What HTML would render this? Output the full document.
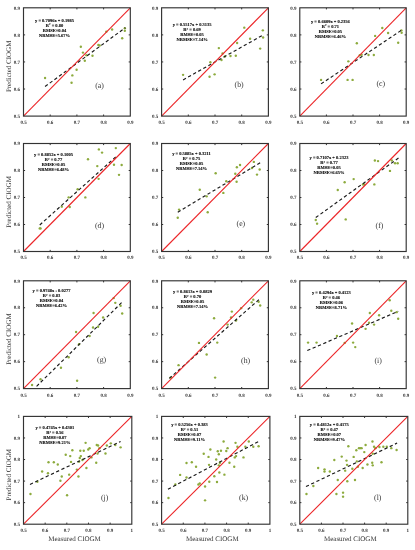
<!DOCTYPE html>
<html><head><meta charset="utf-8"><title>CIOGM scatter plots</title>
<style>
html,body{margin:0;padding:0;background:#fff;width:415px;height:550px;overflow:hidden}
svg{display:block}
svg text{font-family:"Liberation Serif","Times New Roman",serif;fill:#222;text-rendering:geometricPrecision}
circle{fill:#8dab3e}
.dl{stroke:#1a1a1a;stroke-width:1.15;stroke-dasharray:3.3 2.5}
.fr{fill:none;stroke:#333;stroke-width:1.15}
.tx{font-size:5.0px;font-weight:bold;text-anchor:middle;fill:#333}
.ty{font-size:5.0px;font-weight:bold;text-anchor:end;fill:#333}
.eq{font-size:4.5px;font-weight:bold;text-anchor:middle;fill:#000;stroke:#000;stroke-width:0.08}
.sup{font-size:3px}
.lab{font-size:7.8px;text-anchor:middle;fill:#333}
.ax{font-size:7.0px;text-anchor:middle;fill:#333}
</style></head><body>
<svg width="415" height="550" viewBox="0 0 415 550"><g><path d="M50.2 116.1v-1.6M50.2 7.8v1.6M23.5 89.02h1.6M130.3 89.02h-1.6M76.9 116.1v-1.6M76.9 7.8v1.6M23.5 61.95h1.6M130.3 61.95h-1.6M103.6 116.1v-1.6M103.6 7.8v1.6M23.5 34.88h1.6M130.3 34.88h-1.6" stroke="#333" stroke-width="1" fill="none"/><circle cx="45.06" cy="78.04" r="1.2"/><circle cx="72.36" cy="75.39" r="1.2"/><circle cx="71.57" cy="82.81" r="1.2"/><circle cx="76.6" cy="69.82" r="1.2"/><circle cx="80.84" cy="46.76" r="1.2"/><circle cx="82.96" cy="52.59" r="1.2"/><circle cx="86.41" cy="55.24" r="1.2"/><circle cx="84.82" cy="60.81" r="1.2"/><circle cx="92.51" cy="55.77" r="1.2"/><circle cx="98.34" cy="44.9" r="1.2"/><circle cx="99.66" cy="45.43" r="1.2"/><circle cx="106.29" cy="31.65" r="1.2"/><circle cx="112.12" cy="29.53" r="1.2"/><circle cx="122.19" cy="38.28" r="1.2"/><circle cx="124.84" cy="28.2" r="1.2"/><circle cx="124.84" cy="30.86" r="1.2"/><line x1="45.06" y1="86.52" x2="125.37" y2="27.67" class="dl"/><line x1="23.5" y1="116.1" x2="130.3" y2="7.8" stroke="#ec2528" stroke-width="1.1"/><rect x="23.5" y="7.8" width="106.8" height="108.3" class="fr"/><text x="23.5" y="124" class="tx">0.5</text><text x="20.1" y="117.8" class="ty">0.5</text><text x="50.2" y="124" class="tx">0.6</text><text x="20.1" y="90.72" class="ty">0.6</text><text x="76.9" y="124" class="tx">0.7</text><text x="20.1" y="63.65" class="ty">0.7</text><text x="103.6" y="124" class="tx">0.8</text><text x="20.1" y="36.58" class="ty">0.8</text><text x="130.3" y="124" class="tx">0.9</text><text x="20.1" y="9.5" class="ty">0.9</text><text x="54.5" y="21.75" class="eq">y = 0.7096x + 0.1985</text><text x="54.5" y="26.75" class="eq">R<tspan class="sup" dy="-1.3">2</tspan><tspan dy="1.3"> = 0.80</tspan></text><text x="54.5" y="31.75" class="eq">RMSE=0.04</text><text x="54.5" y="36.75" class="eq">NRMSE=5.67%</text><text x="99.5" y="88.4" class="lab">(a)</text></g><g><path d="M188.3 116.1v-1.6M188.3 7.8v1.6M161.6 89.02h1.6M268.4 89.02h-1.6M215 116.1v-1.6M215 7.8v1.6M161.6 61.95h1.6M268.4 61.95h-1.6M241.7 116.1v-1.6M241.7 7.8v1.6M161.6 34.88h1.6M268.4 34.88h-1.6" stroke="#333" stroke-width="1" fill="none"/><circle cx="183.06" cy="74.86" r="1.2"/><circle cx="209.57" cy="76.71" r="1.2"/><circle cx="214.6" cy="74.33" r="1.2"/><circle cx="210.36" cy="62.13" r="1.2"/><circle cx="218.84" cy="48.08" r="1.2"/><circle cx="222.55" cy="53.39" r="1.2"/><circle cx="221.49" cy="60.01" r="1.2"/><circle cx="224.94" cy="56.57" r="1.2"/><circle cx="230.51" cy="56.04" r="1.2"/><circle cx="235.81" cy="55.77" r="1.2"/><circle cx="237.13" cy="43.05" r="1.2"/><circle cx="244.29" cy="27.67" r="1.2"/><circle cx="250.12" cy="38.81" r="1.2"/><circle cx="260.19" cy="48.61" r="1.2"/><circle cx="262.84" cy="30.33" r="1.2"/><circle cx="263.11" cy="37.48" r="1.2"/><line x1="183.06" y1="79.89" x2="263.37" y2="34.83" class="dl"/><line x1="161.6" y1="116.1" x2="268.4" y2="7.8" stroke="#ec2528" stroke-width="1.1"/><rect x="161.6" y="7.8" width="106.8" height="108.3" class="fr"/><text x="161.6" y="124" class="tx">0.5</text><text x="158.2" y="117.8" class="ty">0.5</text><text x="188.3" y="124" class="tx">0.6</text><text x="158.2" y="90.72" class="ty">0.6</text><text x="215" y="124" class="tx">0.7</text><text x="158.2" y="63.65" class="ty">0.7</text><text x="241.7" y="124" class="tx">0.8</text><text x="158.2" y="36.58" class="ty">0.8</text><text x="268.4" y="124" class="tx">0.9</text><text x="158.2" y="9.5" class="ty">0.9</text><text x="192.1" y="26.45" class="eq">y = 0.5517x + 0.3135</text><text x="192.1" y="31.45" class="eq">R<tspan class="sup" dy="-1.3">2</tspan><tspan dy="1.3"> = 0.69</tspan></text><text x="192.1" y="36.45" class="eq">RMSE=0.05</text><text x="192.1" y="41.45" class="eq">NRMSE=7.14%</text><text x="239.1" y="87.3" class="lab">(b)</text></g><g><path d="M326.4 116.1v-1.6M326.4 7.8v1.6M299.8 89.02h1.6M406.2 89.02h-1.6M353 116.1v-1.6M353 7.8v1.6M299.8 61.95h1.6M406.2 61.95h-1.6M379.6 116.1v-1.6M379.6 7.8v1.6M299.8 34.88h1.6M406.2 34.88h-1.6" stroke="#333" stroke-width="1" fill="none"/><circle cx="321.06" cy="79.89" r="1.2"/><circle cx="347.57" cy="79.89" r="1.2"/><circle cx="352.6" cy="79.89" r="1.2"/><circle cx="348.36" cy="61.34" r="1.2"/><circle cx="356.84" cy="43.31" r="1.2"/><circle cx="359.76" cy="55.24" r="1.2"/><circle cx="361.61" cy="54.71" r="1.2"/><circle cx="368.51" cy="54.98" r="1.2"/><circle cx="373.81" cy="54.98" r="1.2"/><circle cx="375.13" cy="35.89" r="1.2"/><circle cx="382.29" cy="27.94" r="1.2"/><circle cx="388.12" cy="32.98" r="1.2"/><circle cx="398.19" cy="42.78" r="1.2"/><circle cx="401.37" cy="30.33" r="1.2"/><circle cx="401.64" cy="32.71" r="1.2"/><line x1="321.06" y1="83.87" x2="401.37" y2="30.33" class="dl"/><line x1="299.8" y1="116.1" x2="406.2" y2="7.8" stroke="#ec2528" stroke-width="1.1"/><rect x="299.8" y="7.8" width="106.4" height="108.3" class="fr"/><text x="299.8" y="124" class="tx">0.5</text><text x="296.4" y="117.8" class="ty">0.5</text><text x="326.4" y="124" class="tx">0.6</text><text x="296.4" y="90.72" class="ty">0.6</text><text x="353" y="124" class="tx">0.7</text><text x="296.4" y="63.65" class="ty">0.7</text><text x="379.6" y="124" class="tx">0.8</text><text x="296.4" y="36.58" class="ty">0.8</text><text x="406.2" y="124" class="tx">0.9</text><text x="296.4" y="9.5" class="ty">0.9</text><text x="330.4" y="22.55" class="eq">y = 0.6609x + 0.2356</text><text x="330.4" y="27.55" class="eq">R<tspan class="sup" dy="-1.3">2</tspan><tspan dy="1.3"> = 0.71</tspan></text><text x="330.4" y="32.55" class="eq">RMSE=0.05</text><text x="330.4" y="37.55" class="eq">NRMSE=6.46%</text><text x="380.8" y="86.1" class="lab">(c)</text></g><g><path d="M50.2 251.5v-1.6M50.2 143.5v1.6M23.5 224.5h1.6M130.3 224.5h-1.6M76.9 251.5v-1.6M76.9 143.5v1.6M23.5 197.5h1.6M130.3 197.5h-1.6M103.6 251.5v-1.6M103.6 143.5v1.6M23.5 170.5h1.6M130.3 170.5h-1.6" stroke="#333" stroke-width="1" fill="none"/><circle cx="39.76" cy="228.41" r="1.2"/><circle cx="40.55" cy="228.41" r="1.2"/><circle cx="61.76" cy="206.67" r="1.2"/><circle cx="68.65" cy="197.4" r="1.2"/><circle cx="69.71" cy="206.94" r="1.2"/><circle cx="77.66" cy="189.18" r="1.2"/><circle cx="85.35" cy="197.4" r="1.2"/><circle cx="88" cy="159.23" r="1.2"/><circle cx="97.28" cy="166.12" r="1.2"/><circle cx="98.6" cy="178.84" r="1.2"/><circle cx="98.87" cy="149.42" r="1.2"/><circle cx="102.05" cy="152.6" r="1.2"/><circle cx="113.98" cy="164.8" r="1.2"/><circle cx="115.83" cy="148.1" r="1.2"/><circle cx="119.01" cy="174.87" r="1.2"/><circle cx="121.66" cy="165.06" r="1.2"/><line x1="39.76" y1="224.96" x2="116.1" y2="156.58" class="dl"/><line x1="23.5" y1="251.5" x2="130.3" y2="143.5" stroke="#ec2528" stroke-width="1.1"/><rect x="23.5" y="143.5" width="106.8" height="108" class="fr"/><text x="23.5" y="259.4" class="tx">0.5</text><text x="20.1" y="253.2" class="ty">0.5</text><text x="50.2" y="259.4" class="tx">0.6</text><text x="20.1" y="226.2" class="ty">0.6</text><text x="76.9" y="259.4" class="tx">0.7</text><text x="20.1" y="199.2" class="ty">0.7</text><text x="103.6" y="259.4" class="tx">0.8</text><text x="20.1" y="172.2" class="ty">0.8</text><text x="130.3" y="259.4" class="tx">0.9</text><text x="20.1" y="145.2" class="ty">0.9</text><text x="53.5" y="156.25" class="eq">y = 0.8852x + 0.1005</text><text x="53.5" y="161.25" class="eq">R<tspan class="sup" dy="-1.3">2</tspan><tspan dy="1.3"> = 0.77</tspan></text><text x="53.5" y="166.25" class="eq">RMSE=0.05</text><text x="53.5" y="171.25" class="eq">NRMSE=6.48%</text><text x="99.5" y="228.2" class="lab">(d)</text></g><g><path d="M188.3 251.5v-1.6M188.3 143.5v1.6M161.6 224.5h1.6M268.4 224.5h-1.6M215 251.5v-1.6M215 143.5v1.6M161.6 197.5h1.6M268.4 197.5h-1.6M241.7 251.5v-1.6M241.7 143.5v1.6M161.6 170.5h1.6M268.4 170.5h-1.6" stroke="#333" stroke-width="1" fill="none"/><circle cx="177.76" cy="217.81" r="1.2"/><circle cx="179.08" cy="209.59" r="1.2"/><circle cx="199.76" cy="189.71" r="1.2"/><circle cx="206.65" cy="196.34" r="1.2"/><circle cx="207.71" cy="212.24" r="1.2"/><circle cx="215.66" cy="173.28" r="1.2"/><circle cx="223.35" cy="192.89" r="1.2"/><circle cx="226.27" cy="181.23" r="1.2"/><circle cx="235.28" cy="173.81" r="1.2"/><circle cx="236.6" cy="181.76" r="1.2"/><circle cx="236.87" cy="167.18" r="1.2"/><circle cx="240.05" cy="165.06" r="1.2"/><circle cx="251.98" cy="167.98" r="1.2"/><circle cx="253.83" cy="161.88" r="1.2"/><circle cx="257.01" cy="174.6" r="1.2"/><circle cx="259.66" cy="169.57" r="1.2"/><line x1="177.76" y1="212.24" x2="260.72" y2="162.41" class="dl"/><line x1="161.6" y1="251.5" x2="268.4" y2="143.5" stroke="#ec2528" stroke-width="1.1"/><rect x="161.6" y="143.5" width="106.8" height="108" class="fr"/><text x="161.6" y="259.4" class="tx">0.5</text><text x="158.2" y="253.2" class="ty">0.5</text><text x="188.3" y="259.4" class="tx">0.6</text><text x="158.2" y="226.2" class="ty">0.6</text><text x="215" y="259.4" class="tx">0.7</text><text x="158.2" y="199.2" class="ty">0.7</text><text x="241.7" y="259.4" class="tx">0.8</text><text x="158.2" y="172.2" class="ty">0.8</text><text x="268.4" y="259.4" class="tx">0.9</text><text x="158.2" y="145.2" class="ty">0.9</text><text x="191.5" y="155.45" class="eq">y = 0.5885x + 0.3211</text><text x="191.5" y="160.45" class="eq">R<tspan class="sup" dy="-1.3">2</tspan><tspan dy="1.3"> = 0.75</tspan></text><text x="191.5" y="165.45" class="eq">RMSE=0.05</text><text x="191.5" y="170.45" class="eq">NRMSE=7.14%</text><text x="240.9" y="226.4" class="lab">(e)</text></g><g><path d="M326.4 251.5v-1.6M326.4 143.5v1.6M299.8 224.5h1.6M406.2 224.5h-1.6M353 251.5v-1.6M353 143.5v1.6M299.8 197.5h1.6M406.2 197.5h-1.6M379.6 251.5v-1.6M379.6 143.5v1.6M299.8 170.5h1.6M406.2 170.5h-1.6" stroke="#333" stroke-width="1" fill="none"/><circle cx="315.76" cy="219.93" r="1.2"/><circle cx="317.08" cy="223.64" r="1.2"/><circle cx="337.76" cy="189.98" r="1.2"/><circle cx="344.65" cy="182.29" r="1.2"/><circle cx="345.71" cy="219.4" r="1.2"/><circle cx="353.66" cy="179.11" r="1.2"/><circle cx="362.94" cy="184.41" r="1.2"/><circle cx="364.27" cy="184.41" r="1.2"/><circle cx="374.34" cy="184.41" r="1.2"/><circle cx="374.87" cy="160.55" r="1.2"/><circle cx="378.05" cy="161.08" r="1.2"/><circle cx="389.98" cy="170.89" r="1.2"/><circle cx="391.83" cy="160.55" r="1.2"/><circle cx="395.01" cy="163.2" r="1.2"/><circle cx="397.66" cy="163.2" r="1.2"/><line x1="315.76" y1="217.54" x2="398.72" y2="157.9" class="dl"/><line x1="299.8" y1="251.5" x2="406.2" y2="143.5" stroke="#ec2528" stroke-width="1.1"/><rect x="299.8" y="143.5" width="106.4" height="108" class="fr"/><text x="299.8" y="259.4" class="tx">0.5</text><text x="296.4" y="253.2" class="ty">0.5</text><text x="326.4" y="259.4" class="tx">0.6</text><text x="296.4" y="226.2" class="ty">0.6</text><text x="353" y="259.4" class="tx">0.7</text><text x="296.4" y="199.2" class="ty">0.7</text><text x="379.6" y="259.4" class="tx">0.8</text><text x="296.4" y="172.2" class="ty">0.8</text><text x="406.2" y="259.4" class="tx">0.9</text><text x="296.4" y="145.2" class="ty">0.9</text><text x="329" y="158.85" class="eq">y = 0.7107x + 0.2323</text><text x="329" y="163.85" class="eq">R<tspan class="sup" dy="-1.3">2</tspan><tspan dy="1.3"> = 0.77</tspan></text><text x="329" y="168.85" class="eq">RMSE=0.05</text><text x="329" y="173.85" class="eq">NRMSE=6.65%</text><text x="379.5" y="227.9" class="lab">(f)</text></g><g><path d="M50.2 388.6v-1.6M50.2 280.8v1.6M23.5 361.65h1.6M130.3 361.65h-1.6M76.9 388.6v-1.6M76.9 280.8v1.6M23.5 334.7h1.6M130.3 334.7h-1.6M103.6 388.6v-1.6M103.6 280.8v1.6M23.5 307.75h1.6M130.3 307.75h-1.6" stroke="#333" stroke-width="1" fill="none"/><circle cx="32.07" cy="385.02" r="1.2"/><circle cx="40.55" cy="379.19" r="1.2"/><circle cx="60.96" cy="367.8" r="1.2"/><circle cx="68.65" cy="357.19" r="1.2"/><circle cx="76.07" cy="332.01" r="1.2"/><circle cx="77.13" cy="380.78" r="1.2"/><circle cx="78.99" cy="344.2" r="1.2"/><circle cx="89.59" cy="335.99" r="1.2"/><circle cx="93.04" cy="327.51" r="1.2"/><circle cx="93.57" cy="312.93" r="1.2"/><circle cx="98.07" cy="326.71" r="1.2"/><circle cx="103.11" cy="317.43" r="1.2"/><circle cx="113.71" cy="298.08" r="1.2"/><circle cx="115.3" cy="302.86" r="1.2"/><circle cx="120.6" cy="305.77" r="1.2"/><circle cx="122.19" cy="313.46" r="1.2"/><line x1="36.58" y1="386.35" x2="122.72" y2="301.53" class="dl"/><line x1="23.5" y1="388.6" x2="130.3" y2="280.8" stroke="#ec2528" stroke-width="1.1"/><rect x="23.5" y="280.8" width="106.8" height="107.8" class="fr"/><text x="23.5" y="396.5" class="tx">0.5</text><text x="20.1" y="390.3" class="ty">0.5</text><text x="50.2" y="396.5" class="tx">0.6</text><text x="20.1" y="363.35" class="ty">0.6</text><text x="76.9" y="396.5" class="tx">0.7</text><text x="20.1" y="336.4" class="ty">0.7</text><text x="103.6" y="396.5" class="tx">0.8</text><text x="20.1" y="309.45" class="ty">0.8</text><text x="130.3" y="396.5" class="tx">0.9</text><text x="20.1" y="282.5" class="ty">0.9</text><text x="51.5" y="292.25" class="eq">y = 0.9748x - 0.0277</text><text x="51.5" y="297.25" class="eq">R<tspan class="sup" dy="-1.3">2</tspan><tspan dy="1.3"> = 0.83</tspan></text><text x="51.5" y="302.25" class="eq">RMSE=0.04</text><text x="51.5" y="307.25" class="eq">NRMSE=6.42%</text><text x="101.6" y="362.2" class="lab">(g)</text></g><g><path d="M188.3 388.6v-1.6M188.3 280.8v1.6M161.6 361.65h1.6M268.4 361.65h-1.6M215 388.6v-1.6M215 280.8v1.6M161.6 334.7h1.6M268.4 334.7h-1.6M241.7 388.6v-1.6M241.7 280.8v1.6M161.6 307.75h1.6M268.4 307.75h-1.6" stroke="#333" stroke-width="1" fill="none"/><circle cx="170.6" cy="377.6" r="1.2"/><circle cx="178.55" cy="365.14" r="1.2"/><circle cx="198.96" cy="342.88" r="1.2"/><circle cx="206.65" cy="354.54" r="1.2"/><circle cx="214.07" cy="318.23" r="1.2"/><circle cx="215.13" cy="377.6" r="1.2"/><circle cx="217.25" cy="342.61" r="1.2"/><circle cx="227.59" cy="324.59" r="1.2"/><circle cx="231.04" cy="317.43" r="1.2"/><circle cx="231.83" cy="311.6" r="1.2"/><circle cx="236.07" cy="320.61" r="1.2"/><circle cx="241.11" cy="308.16" r="1.2"/><circle cx="251.71" cy="302.33" r="1.2"/><circle cx="253.3" cy="299.67" r="1.2"/><circle cx="258.6" cy="301.8" r="1.2"/><circle cx="260.19" cy="305.51" r="1.2"/><line x1="169.28" y1="378.4" x2="260.72" y2="298.08" class="dl"/><line x1="161.6" y1="388.6" x2="268.4" y2="280.8" stroke="#ec2528" stroke-width="1.1"/><rect x="161.6" y="280.8" width="106.8" height="107.8" class="fr"/><text x="161.6" y="396.5" class="tx">0.5</text><text x="158.2" y="390.3" class="ty">0.5</text><text x="188.3" y="396.5" class="tx">0.6</text><text x="158.2" y="363.35" class="ty">0.6</text><text x="215" y="396.5" class="tx">0.7</text><text x="158.2" y="336.4" class="ty">0.7</text><text x="241.7" y="396.5" class="tx">0.8</text><text x="158.2" y="309.45" class="ty">0.8</text><text x="268.4" y="396.5" class="tx">0.9</text><text x="158.2" y="282.5" class="ty">0.9</text><text x="192.5" y="293.45" class="eq">y = 0.8613x + 0.0829</text><text x="192.5" y="298.45" class="eq">R<tspan class="sup" dy="-1.3">2</tspan><tspan dy="1.3"> = 0.70</tspan></text><text x="192.5" y="303.45" class="eq">RMSE=0.05</text><text x="192.5" y="308.45" class="eq">NRMSE=7.14%</text><text x="245.6" y="362.5" class="lab">(h)</text></g><g><path d="M326.4 388.6v-1.6M326.4 280.8v1.6M299.8 361.65h1.6M406.2 361.65h-1.6M353 388.6v-1.6M353 280.8v1.6M299.8 334.7h1.6M406.2 334.7h-1.6M379.6 388.6v-1.6M379.6 280.8v1.6M299.8 307.75h1.6M406.2 307.75h-1.6" stroke="#333" stroke-width="1" fill="none"/><circle cx="308.07" cy="342.61" r="1.2"/><circle cx="316.55" cy="342.61" r="1.2"/><circle cx="336.96" cy="335.99" r="1.2"/><circle cx="344.65" cy="342.88" r="1.2"/><circle cx="352.07" cy="323.53" r="1.2"/><circle cx="353.13" cy="342.61" r="1.2"/><circle cx="355.25" cy="347.12" r="1.2"/><circle cx="365.59" cy="328.83" r="1.2"/><circle cx="369.04" cy="322.73" r="1.2"/><circle cx="369.83" cy="312.93" r="1.2"/><circle cx="374.07" cy="324.59" r="1.2"/><circle cx="379.11" cy="315.31" r="1.2"/><circle cx="389.71" cy="300.2" r="1.2"/><circle cx="391.3" cy="310.81" r="1.2"/><circle cx="396.6" cy="312.13" r="1.2"/><circle cx="398.19" cy="318.76" r="1.2"/><line x1="307.28" y1="350.57" x2="398.19" y2="311.34" class="dl"/><line x1="299.8" y1="388.6" x2="406.2" y2="280.8" stroke="#ec2528" stroke-width="1.1"/><rect x="299.8" y="280.8" width="106.4" height="107.8" class="fr"/><text x="299.8" y="396.5" class="tx">0.5</text><text x="296.4" y="390.3" class="ty">0.5</text><text x="326.4" y="396.5" class="tx">0.6</text><text x="296.4" y="363.35" class="ty">0.6</text><text x="353" y="396.5" class="tx">0.7</text><text x="296.4" y="336.4" class="ty">0.7</text><text x="379.6" y="396.5" class="tx">0.8</text><text x="296.4" y="309.45" class="ty">0.8</text><text x="406.2" y="396.5" class="tx">0.9</text><text x="296.4" y="282.5" class="ty">0.9</text><text x="331.4" y="294.45" class="eq">y = 0.4294x + 0.4123</text><text x="331.4" y="299.45" class="eq">R<tspan class="sup" dy="-1.3">2</tspan><tspan dy="1.3"> = 0.46</tspan></text><text x="331.4" y="304.45" class="eq">RMSE=0.06</text><text x="331.4" y="309.45" class="eq">NRMSE=8.71%</text><text x="378.2" y="362.6" class="lab">(i)</text></g><g><path d="M45.16 524.2v-1.6M45.16 416.4v1.6M23.5 502.64h1.6M131.8 502.64h-1.6M66.82 524.2v-1.6M66.82 416.4v1.6M23.5 481.08h1.6M131.8 481.08h-1.6M88.48 524.2v-1.6M88.48 416.4v1.6M23.5 459.52h1.6M131.8 459.52h-1.6M110.14 524.2v-1.6M110.14 416.4v1.6M23.5 437.96h1.6M131.8 437.96h-1.6" stroke="#333" stroke-width="1" fill="none"/><circle cx="30.48" cy="493.99" r="1.2"/><circle cx="37.37" cy="481.8" r="1.2"/><circle cx="42.14" cy="471.46" r="1.2"/><circle cx="47.98" cy="473.31" r="1.2"/><circle cx="48.51" cy="462.18" r="1.2"/><circle cx="53.81" cy="462.18" r="1.2"/><circle cx="57.78" cy="464.57" r="1.2"/><circle cx="60.43" cy="480.73" r="1.2"/><circle cx="61.76" cy="476.49" r="1.2"/><circle cx="65.73" cy="454.76" r="1.2"/><circle cx="67.06" cy="495.31" r="1.2"/><circle cx="69.18" cy="474.64" r="1.2"/><circle cx="70.24" cy="456.08" r="1.2"/><circle cx="71.04" cy="461.92" r="1.2"/><circle cx="72.36" cy="450.25" r="1.2"/><circle cx="76.87" cy="469.6" r="1.2"/><circle cx="78.46" cy="476.49" r="1.2"/><circle cx="78.99" cy="461.65" r="1.2"/><circle cx="79.78" cy="457.94" r="1.2"/><circle cx="80.31" cy="450.78" r="1.2"/><circle cx="80.84" cy="456.08" r="1.2"/><circle cx="82.43" cy="460.06" r="1.2"/><circle cx="83.76" cy="450.78" r="1.2"/><circle cx="85.61" cy="442.83" r="1.2"/><circle cx="86.41" cy="468.01" r="1.2"/><circle cx="88.27" cy="449.46" r="1.2"/><circle cx="89.59" cy="448.13" r="1.2"/><circle cx="91.45" cy="457.41" r="1.2"/><circle cx="96.22" cy="462.71" r="1.2"/><circle cx="96.75" cy="444.95" r="1.2"/><circle cx="97.54" cy="453.43" r="1.2"/><circle cx="98.07" cy="445.48" r="1.2"/><circle cx="99.4" cy="448.13" r="1.2"/><circle cx="105.49" cy="453.43" r="1.2"/><circle cx="106.82" cy="445.48" r="1.2"/><circle cx="110.8" cy="443.36" r="1.2"/><circle cx="115.3" cy="444.95" r="1.2"/><circle cx="120.6" cy="447.34" r="1.2"/><line x1="29.95" y1="484.45" x2="120.6" y2="441.51" class="dl"/><line x1="23.5" y1="524.2" x2="131.8" y2="416.4" stroke="#ec2528" stroke-width="1.1"/><rect x="23.5" y="416.4" width="108.3" height="107.8" class="fr"/><text x="23.5" y="532.1" class="tx">0.5</text><text x="20.1" y="525.9" class="ty">0.5</text><text x="45.16" y="532.1" class="tx">0.6</text><text x="20.1" y="504.34" class="ty">0.6</text><text x="66.82" y="532.1" class="tx">0.7</text><text x="20.1" y="482.78" class="ty">0.7</text><text x="88.48" y="532.1" class="tx">0.8</text><text x="20.1" y="461.22" class="ty">0.8</text><text x="110.14" y="532.1" class="tx">0.9</text><text x="20.1" y="439.66" class="ty">0.9</text><text x="131.8" y="532.1" class="tx">1</text><text x="20.1" y="418.1" class="ty">1</text><text x="54.9" y="428.85" class="eq">y = 0.4745x + 0.4301</text><text x="54.9" y="433.85" class="eq">R<tspan class="sup" dy="-1.3">2</tspan><tspan dy="1.3"> = 0.56</tspan></text><text x="54.9" y="438.85" class="eq">RMSE=0.07</text><text x="54.9" y="443.85" class="eq">NRMSE=9.21%</text><text x="104.7" y="500.2" class="lab">(j)</text></g><g><path d="M183.26 524.2v-1.6M183.26 416.4v1.6M161.6 502.64h1.6M269.9 502.64h-1.6M204.92 524.2v-1.6M204.92 416.4v1.6M161.6 481.08h1.6M269.9 481.08h-1.6M226.58 524.2v-1.6M226.58 416.4v1.6M161.6 459.52h1.6M269.9 459.52h-1.6M248.24 524.2v-1.6M248.24 416.4v1.6M161.6 437.96h1.6M269.9 437.96h-1.6" stroke="#333" stroke-width="1" fill="none"/><circle cx="168.48" cy="497.96" r="1.2"/><circle cx="175.37" cy="484.45" r="1.2"/><circle cx="180.14" cy="474.9" r="1.2"/><circle cx="186.51" cy="477.55" r="1.2"/><circle cx="186.51" cy="462.98" r="1.2"/><circle cx="191.81" cy="462.18" r="1.2"/><circle cx="196.05" cy="466.69" r="1.2"/><circle cx="198.43" cy="484.45" r="1.2"/><circle cx="199.76" cy="483.39" r="1.2"/><circle cx="203.73" cy="453.7" r="1.2"/><circle cx="205.06" cy="500.35" r="1.2"/><circle cx="205.06" cy="486.57" r="1.2"/><circle cx="209.3" cy="481.8" r="1.2"/><circle cx="219.37" cy="472.52" r="1.2"/><circle cx="218.84" cy="465.36" r="1.2"/><circle cx="208.51" cy="456.88" r="1.2"/><circle cx="209.04" cy="464.83" r="1.2"/><circle cx="210.36" cy="449.46" r="1.2"/><circle cx="214.34" cy="476.23" r="1.2"/><circle cx="216.19" cy="459.53" r="1.2"/><circle cx="216.99" cy="482.06" r="1.2"/><circle cx="217.78" cy="451.31" r="1.2"/><circle cx="218.84" cy="454.23" r="1.2"/><circle cx="219.9" cy="462.71" r="1.2"/><circle cx="220.96" cy="450.78" r="1.2"/><circle cx="223.61" cy="441.51" r="1.2"/><circle cx="224.41" cy="474.64" r="1.2"/><circle cx="226.27" cy="451.05" r="1.2"/><circle cx="227.59" cy="448.13" r="1.2"/><circle cx="229.45" cy="462.71" r="1.2"/><circle cx="234.22" cy="466.69" r="1.2"/><circle cx="234.75" cy="457.41" r="1.2"/><circle cx="235.54" cy="442.83" r="1.2"/><circle cx="236.07" cy="456.08" r="1.2"/><circle cx="237.4" cy="446.81" r="1.2"/><circle cx="243.49" cy="457.41" r="1.2"/><circle cx="245.35" cy="446.81" r="1.2"/><circle cx="248.8" cy="441.51" r="1.2"/><circle cx="253.3" cy="446.81" r="1.2"/><circle cx="258.6" cy="446.28" r="1.2"/><line x1="167.95" y1="489.22" x2="258.6" y2="441.51" class="dl"/><line x1="161.6" y1="524.2" x2="269.9" y2="416.4" stroke="#ec2528" stroke-width="1.1"/><rect x="161.6" y="416.4" width="108.3" height="107.8" class="fr"/><text x="161.6" y="532.1" class="tx">0.5</text><text x="158.2" y="525.9" class="ty">0.5</text><text x="183.26" y="532.1" class="tx">0.6</text><text x="158.2" y="504.34" class="ty">0.6</text><text x="204.92" y="532.1" class="tx">0.7</text><text x="158.2" y="482.78" class="ty">0.7</text><text x="226.58" y="532.1" class="tx">0.8</text><text x="158.2" y="461.22" class="ty">0.8</text><text x="248.24" y="532.1" class="tx">0.9</text><text x="158.2" y="439.66" class="ty">0.9</text><text x="269.9" y="532.1" class="tx">1</text><text x="158.2" y="418.1" class="ty">1</text><text x="189.5" y="426.45" class="eq">y = 0.5256x + 0.383</text><text x="189.5" y="431.45" class="eq">R<tspan class="sup" dy="-1.3">2</tspan><tspan dy="1.3"> = 0.51</tspan></text><text x="189.5" y="436.45" class="eq">RMSE=0.07</text><text x="189.5" y="441.45" class="eq">NRMSE=9.11%</text><text x="243.6" y="500.2" class="lab">(k)</text></g><g><path d="M321.4 524.2v-1.6M321.4 416.4v1.6M299.8 502.64h1.6M407.8 502.64h-1.6M343 524.2v-1.6M343 416.4v1.6M299.8 481.08h1.6M407.8 481.08h-1.6M364.6 524.2v-1.6M364.6 416.4v1.6M299.8 459.52h1.6M407.8 459.52h-1.6M386.2 524.2v-1.6M386.2 416.4v1.6M299.8 437.96h1.6M407.8 437.96h-1.6" stroke="#333" stroke-width="1" fill="none"/><circle cx="306.48" cy="493.99" r="1.2"/><circle cx="313.37" cy="486.04" r="1.2"/><circle cx="318.14" cy="468.01" r="1.2"/><circle cx="324.51" cy="469.34" r="1.2"/><circle cx="324.51" cy="471.46" r="1.2"/><circle cx="329.81" cy="471.46" r="1.2"/><circle cx="334.31" cy="460.06" r="1.2"/><circle cx="336.43" cy="493.99" r="1.2"/><circle cx="337.76" cy="479.94" r="1.2"/><circle cx="341.73" cy="456.61" r="1.2"/><circle cx="343.06" cy="492.66" r="1.2"/><circle cx="343.06" cy="496.64" r="1.2"/><circle cx="345.18" cy="470.66" r="1.2"/><circle cx="346.51" cy="460.59" r="1.2"/><circle cx="347.04" cy="464.83" r="1.2"/><circle cx="347.3" cy="481.27" r="1.2"/><circle cx="348.36" cy="446.28" r="1.2"/><circle cx="352.34" cy="468.81" r="1.2"/><circle cx="353.66" cy="456.88" r="1.2"/><circle cx="354.99" cy="479.94" r="1.2"/><circle cx="356.31" cy="450.25" r="1.2"/><circle cx="356.84" cy="461.39" r="1.2"/><circle cx="357.9" cy="466.69" r="1.2"/><circle cx="358.96" cy="448.13" r="1.2"/><circle cx="360.29" cy="448.13" r="1.2"/><circle cx="361.61" cy="448.13" r="1.2"/><circle cx="362.67" cy="468.01" r="1.2"/><circle cx="364.27" cy="452.11" r="1.2"/><circle cx="365.59" cy="444.95" r="1.2"/><circle cx="367.45" cy="464.57" r="1.2"/><circle cx="372.22" cy="462.71" r="1.2"/><circle cx="372.48" cy="441.51" r="1.2"/><circle cx="372.75" cy="465.36" r="1.2"/><circle cx="374.07" cy="446.81" r="1.2"/><circle cx="375.4" cy="448.13" r="1.2"/><circle cx="381.49" cy="462.18" r="1.2"/><circle cx="383.35" cy="446.81" r="1.2"/><circle cx="386.8" cy="446.81" r="1.2"/><circle cx="391.3" cy="448.13" r="1.2"/><circle cx="396.6" cy="449.99" r="1.2"/><circle cx="379.37" cy="447.07" r="1.2"/><circle cx="372.75" cy="453.7" r="1.2"/><line x1="305.95" y1="486.57" x2="397.13" y2="443.1" class="dl"/><line x1="299.8" y1="524.2" x2="407.8" y2="416.4" stroke="#ec2528" stroke-width="1.1"/><rect x="299.8" y="416.4" width="108" height="107.8" class="fr"/><text x="299.8" y="532.1" class="tx">0.5</text><text x="296.4" y="525.9" class="ty">0.5</text><text x="321.4" y="532.1" class="tx">0.6</text><text x="296.4" y="504.34" class="ty">0.6</text><text x="343" y="532.1" class="tx">0.7</text><text x="296.4" y="482.78" class="ty">0.7</text><text x="364.6" y="532.1" class="tx">0.8</text><text x="296.4" y="461.22" class="ty">0.8</text><text x="386.2" y="532.1" class="tx">0.9</text><text x="296.4" y="439.66" class="ty">0.9</text><text x="407.8" y="532.1" class="tx">1</text><text x="296.4" y="418.1" class="ty">1</text><text x="329.3" y="425.85" class="eq">y = 0.4812x + 0.4175</text><text x="329.3" y="430.85" class="eq">R<tspan class="sup" dy="-1.3">2</tspan><tspan dy="1.3"> = 0.47</tspan></text><text x="329.3" y="435.85" class="eq">RMSE=0.07</text><text x="329.3" y="440.85" class="eq">NRMSE=9.47%</text><text x="377.8" y="500.2" class="lab">(l)</text></g><text transform="translate(11.3 66.35) rotate(-90)" class="ax">Predicted CIOGM</text><text transform="translate(11.3 201.9) rotate(-90)" class="ax">Predicted CIOGM</text><text transform="translate(11.3 339.1) rotate(-90)" class="ax">Predicted CIOGM</text><text transform="translate(11.3 474.7) rotate(-90)" class="ax">Predicted CIOGM</text><text x="74.5" y="541" class="ax">Measured CIOGM</text><text x="212.3" y="541" class="ax">Measured CIOGM</text><text x="350.3" y="541" class="ax">Measured CIOGM</text></svg>
</body></html>
